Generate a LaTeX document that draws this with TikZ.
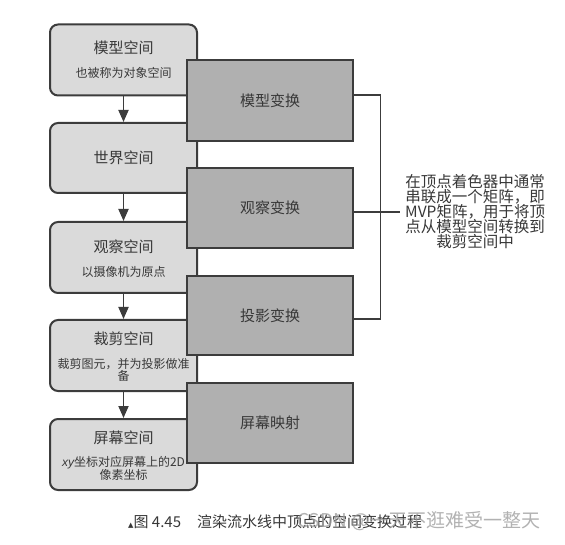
\documentclass[tikz,border=0pt]{standalone}
\usepackage{fontspec}
\setmainfont{Noto Sans CJK SC}
\newfontfamily\cjk{Noto Sans CJK SC}
\newfontfamily\latinit{Liberation Sans}
\newfontfamily\dejavu{DejaVu Sans}
\usetikzlibrary{arrows.meta,calc}
\definecolor{edgec}{HTML}{3C3C3C}
\definecolor{txtc}{HTML}{383838}
\definecolor{lfill}{HTML}{DADADA}
\definecolor{rfill}{HTML}{B0B0B0}
\tikzset{
  spacebox/.style={draw=edgec, line width=2pt, fill=lfill, rounded corners=8pt,
    minimum width=147pt, inner sep=0pt},
  xformbox/.style={draw=edgec, line width=1.8pt, fill=rfill, minimum width=166pt, inner sep=0pt,
    font=\fontsize{15}{17}\selectfont, text=txtc},
  titletxt/.style={font=\fontsize{15}{17}\selectfont, text=txtc, inner sep=0pt},
  subtxt/.style={font=\fontsize{12}{12.8}\selectfont, text=txtc, inner sep=0pt, align=center},
  flowarrow/.style={draw=edgec, line width=1.8pt, -{Triangle[length=12pt,width=10pt]}},
  bracketline/.style={draw=edgec, line width=1.4pt},
}
\begin{document}
\begin{tikzpicture}[x=1pt,y=-1pt]
\useasboundingbox[fill=white] (0,0) rectangle (565,545);
% left space boxes
\node[spacebox, minimum height=71pt] (s1) at (123.5,60) {};
\node[spacebox, minimum height=70pt] (s2) at (123.5,158) {};
\node[spacebox, minimum height=71pt] (s3) at (123.5,257.5) {};
\node[spacebox, minimum height=71pt] (s4) at (123.5,355.5) {};
\node[spacebox, minimum height=71pt] (s5) at (123.5,454.5) {};
% texts
\node[titletxt] (t1) at ($(s1.center)+(0,-12)$) {模型空间};
\node[subtxt] (u1) at ($(s1.center)+(0,13)$) {也被称为对象空间};
\node[titletxt] (t2) at (s2.center) {世界空间};
\node[titletxt] (t3) at ($(s3.center)+(0,-11)$) {观察空间};
\node[subtxt] (u3) at ($(s3.center)+(0,14)$) {以摄像机为原点};
\node[titletxt] (t4) at ($(s4.center)+(0,-17)$) {裁剪空间};
\node[subtxt] (u4) at ($(s4.center)+(0,14.5)$) {裁剪图元，并为投影做准\\备};
\node[titletxt] (t5) at ($(s5.center)+(0,-17)$) {屏幕空间};
\node[subtxt] (u5) at ($(s5.center)+(0,14)$) {{\latinit\itshape xy}坐标对应屏幕上的2D\\像素坐标};
% arrows
\draw[flowarrow] (s1.south) -- (s2.north);
\draw[flowarrow] (s2.south) -- (s3.north);
\draw[flowarrow] (s3.south) -- (s4.north);
\draw[flowarrow] (s4.south) -- (s5.north);
% transform boxes
\node[xformbox, minimum height=81pt] (A) at (270,100.5) {模型变换};
\node[xformbox, minimum height=80pt] (B) at (270,208) {观察变换};
\node[xformbox, minimum height=79pt] (C) at (270,315.5) {投影变换};
\node[xformbox, minimum height=80pt] (D) at (270,423) {屏幕映射};
% bracket
\coordinate (bt) at (380.5,95);
\coordinate (bb) at (380.5,319);
\coordinate (mend) at (400,212);
\draw[bracketline] (A.east |- bt) -- (bt) -- (bb) -- (C.east |- bb);
\draw[bracketline] (B.east |- mend) -- (mend);
\node[anchor=west, inner sep=0pt, align=center, text=txtc,
      font=\fontsize{15.5}{15}\selectfont] (note) at ($(mend)+(5,0)$)
  {在顶点着色器中通常\\串联成一个矩阵，即\\MVP矩阵，用于将顶\\点从模型空间转换到\\裁剪空间中};
% caption
\node[anchor=west, inner sep=0pt, text=txtc, font=\fontsize{15}{17}\selectfont] (cap) at (128,522)
  {{\dejavu\fontsize{7}{8}\selectfont ▲}图 4.45\hspace{16pt}渲染流水线中顶点的空间变换过程};
\node[anchor=west, inner sep=0pt, text=gray!80, opacity=0.75, font=\fontsize{19}{21}\selectfont] (wm) at (297,521)
  {CSDN @一天不逛难受一整天};
\end{tikzpicture}
\end{document}
